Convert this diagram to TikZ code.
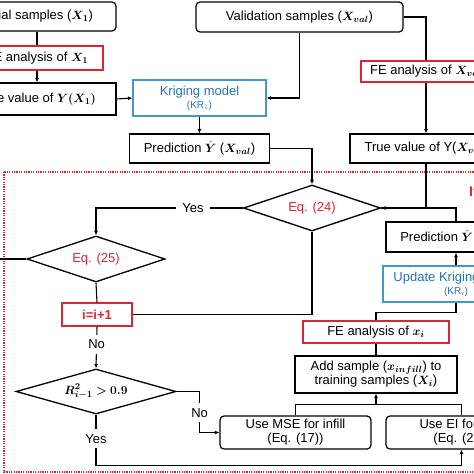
\documentclass[tikz,border=0pt]{standalone}
\usepackage{amsmath,bm}
\usepackage{fontspec}
\setmainfont{Liberation Sans}
\usetikzlibrary{shapes.geometric,arrows.meta,calc}
\definecolor{myred}{RGB}{215,40,50}
\definecolor{myblue}{RGB}{35,115,185}
\definecolor{bblue}{RGB}{70,150,200}
\begin{document}
\begin{tikzpicture}[x=1pt,y=-1pt,
  font=\fontsize{13}{15}\selectfont,
  >={Latex[length=4.5pt,width=4pt]},
  box/.style={draw, line width=1.2pt, inner sep=0pt, align=center},
  rbox/.style={box, rounded corners=4pt},
  febox/.style={box, draw=myred},
  kbox/.style={box, draw=bblue, text=myblue},
  dia/.style={draw, diamond, aspect=3, inner sep=0pt, line width=1.3pt},
  lab/.style={fill=white, inner xsep=6pt, inner ysep=5pt},
  conn/.style={line width=1.1pt}]
\useasboundingbox (0,0) rectangle (474,474);

% dotted loop frame
\draw[myred, line width=1.2pt, dash pattern=on 1.2pt off 1.2pt] (4,172) rectangle (540,472);
\node[text=myred, font=\fontsize{14}{16}\selectfont\bfseries, anchor=west, inner sep=0pt] (itlabel) at (469,191) {Iteration};

% top part
\node[rbox, minimum width=158, minimum height=29] (init) at (37,16.5) {Initial samples ($\bm{X_1}$)};
\node[febox, minimum width=132, minimum height=24] (fe1) at (37,58) {FE analysis of $\bm{X_1}$};
\node[box, minimum width=158, minimum height=32] (true1) at (37,99) {True value of $\bm{Y(X_1)}$};
\node[kbox, minimum width=133, minimum height=36] (krig) at (199.5,98) {Kriging model\\[-2pt]{\fontsize{10}{11}\selectfont (KR$_1$)}};
\node[rbox, minimum width=207, minimum height=30] (val) at (299.5,17) {Validation samples ($\bm{X_{val}}$)};
\node[febox, minimum width=130, minimum height=21] (feval) at (426,71.5) {FE analysis of $\bm{X_{val}}$};
\node[box, minimum width=152, minimum height=29] (trueval) at (426,148.5) {True value of Y($\bm{X_{val}}$)};
\node[box, minimum width=140, minimum height=29] (predval) at (199.5,148.5) {Prediction $\hat{\bm{Y}}$ ($\bm{X_{val}}$)};

% loop part
\node[dia, minimum width=137, minimum height=46, text=myred] (eq24) at (312,208) {Eq. (24)};
\node[box, minimum width=140, minimum height=30] (predi) at (456,237) {Prediction $\hat{\bm{Y}}$ ($\bm{X_{val}}$)};
\node[kbox, minimum width=146, minimum height=36] (updk) at (456,284) {Update Kriging model\\[-2pt]{\fontsize{10}{11}\selectfont (KR$_i$)}};
\node[febox, minimum width=146, minimum height=22] (fei) at (376,332) {FE analysis of $\bm{x_i}$};
\node[box, minimum width=162, minimum height=37] (add) at (376,374.5) {Add sample ($\bm{x_{infill}}$) to\\[-1pt]training samples ($\bm{X_i}$)};
\node[rbox, minimum width=151, minimum height=33] (mse) at (295.5,432.5) {Use MSE for infill\\[-1pt](Eq. (17))};
\node[rbox, minimum width=151, minimum height=33] (ei) at (461.5,432.5) {Use EI for infill\\[-1pt](Eq. (23))};
\node[dia, minimum width=138, minimum height=46, text=myred] (eq25) at (96,259) {Eq. (25)};
\node[febox, minimum width=70, minimum height=23, text=myred, font=\fontsize{13}{15}\selectfont\bfseries] (inc) at (97,314.5) {i=i+1};
\node[dia, minimum width=160, minimum height=45] (r2) at (96,391.5) {$\bm{R^2_{i-1} > 0.9}$};
\coordinate (leftend) at (-3,259);

% connectors
\draw[conn] (init.south) -- (fe1.north);
\draw[conn,->] (fe1.south) -- (true1.north);
\draw[conn,->] (true1.east) -- (krig.west);
\draw[conn,->] (val.south) |- (krig.east);
\draw[conn] (val.east) -| (feval.north);
\draw[conn,->] (feval.south) -- (trueval.north);
\draw[conn,->] (krig.south) -- (predval.north);
\draw[conn,->] (predval.east) -| (eq24.north);
\draw[conn,->] (trueval.south) |- (eq24.east);
\draw[conn] (predi.north) |- (eq24.east);
\draw[conn,->] (updk.north) -- (predi.south);
\draw[conn] (fei.north) -- ++(0,-8) -| (updk.south);
\draw[conn] (add.north) -- (fei.south);
\draw[conn] (mse.north) -- ++(0,-11) -| (ei.north);
\draw[conn,->] ($(mse.north)+(80.5,-11)$) -- (add.south);
\draw[conn,->] (eq24.west) -| node[lab, pos=0.17] {Yes} (eq25.north);
\draw[conn] (eq25.west) -- (leftend);
\draw[conn] (eq25.south) -- (inc.north);
\draw[conn] (eq24.south) |- (inc.east);
\draw[conn,->] (inc.south) -- node[lab, pos=0.42] {No} (r2.north);
\draw[conn,->] (r2.east) -- ++(23,0) |- node[lab, pos=0.26] {No} (mse.west);
\draw[conn,->] (r2.south) -- node[lab, pos=0.47] {Yes} ++(0,51) -| (ei.south);
\end{tikzpicture}
\end{document}
